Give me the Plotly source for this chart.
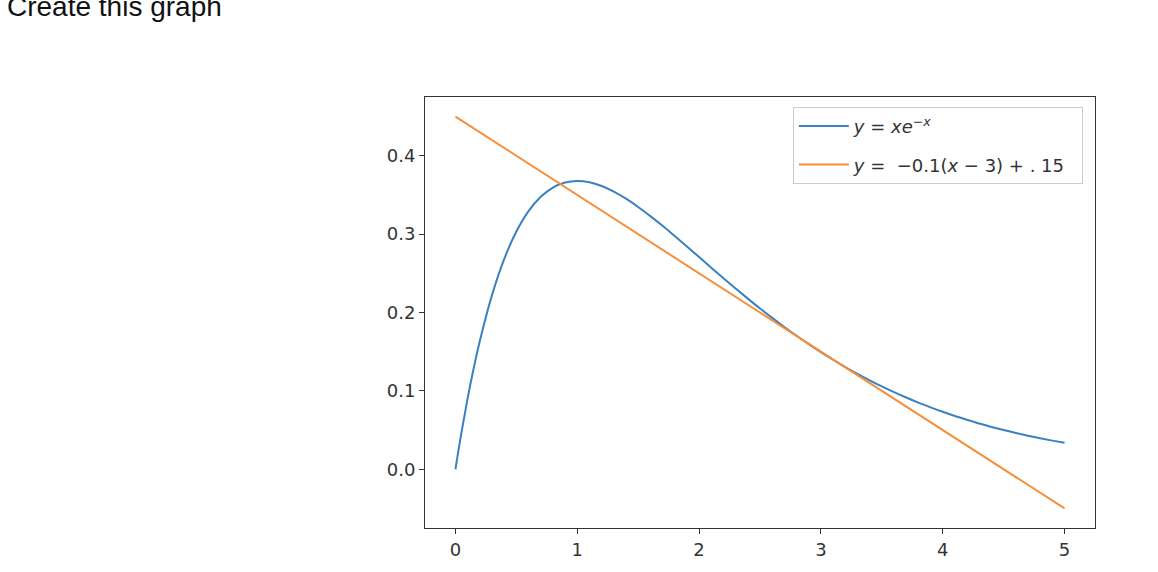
import plotly.graph_objects as go

# Curve y = x e^{-x}
x_curve = [0.0, 0.05, 0.1, 0.15, 0.2, 0.3, 0.4, 0.5, 0.6, 0.7, 0.8, 0.9, 1.0,
           1.1, 1.2, 1.3, 1.4, 1.5, 1.6, 1.7, 1.8, 1.9, 2.0, 2.1, 2.2, 2.3,
           2.4, 2.5, 2.6, 2.7, 2.8, 2.9, 3.0, 3.1, 3.2, 3.3, 3.4, 3.5, 3.6,
           3.7, 3.8, 3.9, 4.0, 4.1, 4.2, 4.3, 4.4, 4.5, 4.6, 4.7, 4.8, 4.9, 5.0]
y_curve = [0.0, 0.0476, 0.0905, 0.1291, 0.1637, 0.2222, 0.2681, 0.3033, 0.3293,
           0.3476, 0.3595, 0.3659, 0.3679, 0.3662, 0.3614, 0.3543, 0.3452,
           0.3347, 0.3230, 0.3106, 0.2975, 0.2842, 0.2707, 0.2572, 0.2438,
           0.2306, 0.2177, 0.2052, 0.1931, 0.1815, 0.1703, 0.1596, 0.1494,
           0.1397, 0.1304, 0.1217, 0.1135, 0.1057, 0.0984, 0.0915, 0.0850,
           0.0790, 0.0733, 0.0679, 0.0630, 0.0583, 0.0540, 0.0500, 0.0462,
           0.0427, 0.0395, 0.0365, 0.0337]

# Tangent line y = -0.1(x-3) + .15
x_line = [0.0, 5.0]
y_line = [0.45, -0.05]

x_ticks = [0, 1, 2, 3, 4, 5]
y_ticks = [0.0, 0.1, 0.2, 0.3, 0.4]
y_tick_labels = ["0.0", "0.1", "0.2", "0.3", "0.4"]

label_curve = "<i>y</i> = <i>xe</i><sup>−<i>x</i></sup>"
label_line = "<i>y</i> =  −0.1(<i>x</i> − 3) + . 15  "

BLUE = "#3b80c0"
ORANGE = "#f59038"
AXC = "#333333"

fig = go.Figure()
fig.add_trace(go.Scatter(x=x_curve, y=y_curve, mode="lines", name=label_curve,
                         legendgroup="a",
                         line=dict(color=BLUE, width=2, shape="spline")))
fig.add_trace(go.Scatter(x=x_line, y=y_line, mode="lines", name=label_line,
                         legendgroup="b",
                         line=dict(color=ORANGE, width=2)))

axis_common = dict(showline=True, linecolor=AXC, linewidth=1, mirror=True,
                   ticks="outside", ticklen=5, tickcolor=AXC, tickwidth=1,
                   showgrid=False, zeroline=False,
                   tickfont=dict(family="DejaVu Sans", size=18, color=AXC))

fig.update_xaxes(range=[-0.25, 5.25], tickvals=x_ticks, **axis_common)
fig.update_yaxes(range=[-0.075, 0.475], tickvals=y_ticks,
                 ticktext=y_tick_labels, **axis_common)

fig.update_layout(
    width=1158, height=572,
    margin=dict(l=425, r=63, t=97, b=42),
    paper_bgcolor="white", plot_bgcolor="white",
    showlegend=True,
    legend=dict(x=0.549, y=0.977, xanchor="left", yanchor="top",
                bgcolor="white", bordercolor="#cccccc", borderwidth=1,
                tracegroupgap=12, itemwidth=50,
                font=dict(family="DejaVu Sans", size=18, color="#333333")),
    annotations=[dict(text="Create this graph", xref="paper", yref="paper",
                      x=-0.627, y=1.209, xanchor="left", yanchor="middle",
                      showarrow=False,
                      font=dict(family="Liberation Sans", size=28,
                                color="#111111"))],
)

fig.write_html("out.html",
               config={"displayModeBar": False},
               post_script="document.body.style.margin='0';")
